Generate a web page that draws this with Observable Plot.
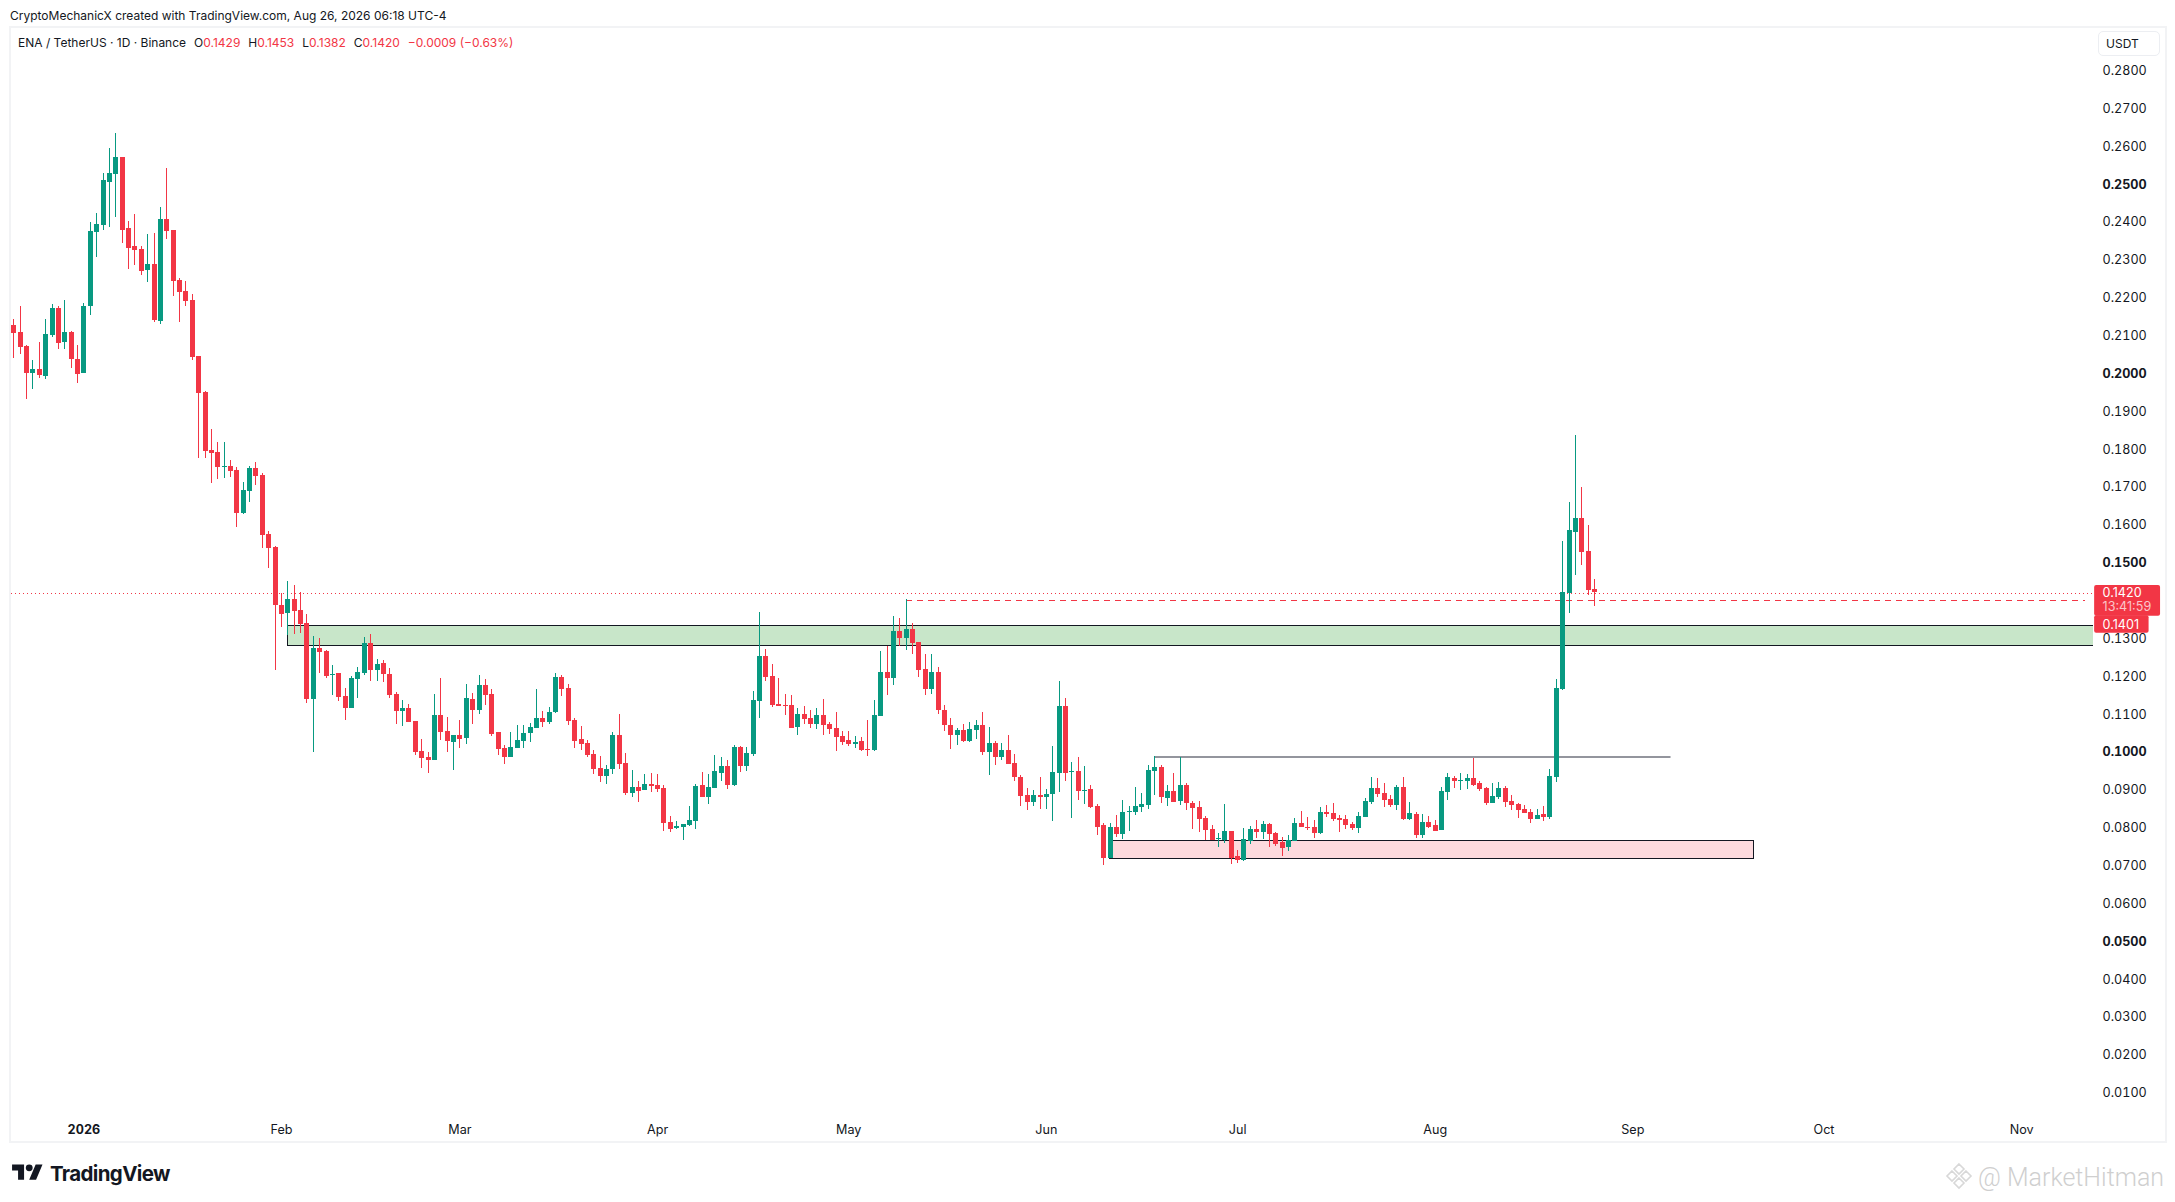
<!DOCTYPE html>
<html><head><meta charset="utf-8">
<script src="https://cdn.jsdelivr.net/npm/d3@7"></script>
<script src="https://cdn.jsdelivr.net/npm/@observablehq/plot@0.6"></script>
<style>
html,body{margin:0;padding:0;background:#fff;width:2175px;height:1202px;overflow:hidden;font-family:Inter,sans-serif;color:#131722}
#page{position:relative;width:2175px;height:1202px;overflow:hidden}
#credit{height:27px;line-height:31px;padding-left:10px;font-size:12px;white-space:pre;box-sizing:border-box}
#frame{position:absolute;left:9px;top:26px;width:2158px;height:1117px;border:2px solid #f2f3f5;box-sizing:border-box;pointer-events:none}
#legend{position:absolute;left:18px;top:34px;font-size:12px;line-height:17px;white-space:pre}
#legend b{font-weight:400;color:#F23645}
#legend i{font-style:normal;margin-left:8px}
#unit{position:absolute;left:2098px;top:31px;width:62px;height:25px;border:1px solid #eceef2;border-radius:5px;box-sizing:border-box;font-size:12px;line-height:23px;padding-left:7px}
#chart svg{display:block}
#logo{position:absolute;left:12px;top:1161px}
#brand{position:absolute;left:50px;top:1158.5px;font-size:20.5px;line-height:30px;font-weight:700;letter-spacing:-.65px;color:#131722}
#mark{position:absolute;left:1945px;top:1162px}
#at{position:absolute;left:1978px;top:1162px;font-family:Roboto,sans-serif;font-size:25px;line-height:32px;font-weight:300;color:#cfcfcf;white-space:pre}
</style></head><body>
<div id="page">
<div id="frame"></div>
<div id="credit">CryptoMechanicX created with TradingView.com, Aug 26, 2026 06:18 UTC-4</div>
<div id="chart"></div>
<div id="legend">ENA / TetherUS · 1D · Binance<i>O</i><b>0.1429</b><i>H</i><b>0.1453</b><i>L</i><b>0.1382</b><i>C</i><b>0.1420</b><i></i><b>−0.0009 (−0.63%)</b></div>
<div id="unit">USDT</div>
<svg id="logo" width="31" height="24" viewBox="0 0 36 28" fill="#131722"><path d="M14 22H7V11H0V4h14v18zM28 22h-8l7.5-18h8L28 22z"/><circle cx="20" cy="8" r="4"/></svg>
<div id="brand">TradingView</div>
<svg id="mark" width="28" height="28" viewBox="0 0 28 28" fill="none" stroke="#d8d8d8" stroke-width="1.6"><path d="M14 2l5 5-5 5-5-5zM7 9l5 5-5 5-5-5zM21 9l5 5-5 5-5-5zM14 16l5 5-5 5-5-5z"/></svg>
<div id="at">@ MarketHitman</div>
</div>
<script>
// Prices in ticks of 0.0001 USDT, one value per daily candle from 21 Dec 2025.
const TICK = 0.0001;
const opens = [
2125,2106,2069,1998,2009,1990,2098,2170,2080,2106,
2035,1998,2175,2371,2389,2503,2524,2569,2381,2334,
2326,2270,2286,2135,2405,2376,2244,2215,2191,2043,
1948,1795,1789,1750,1752,1742,1628,1686,1747,1728,
1573,1538,1386,1364,1401,1372,1338,1137,1272,1264,
1201,1206,1145,1113,1190,1206,1285,1214,1232,1203,
1150,1106,1113,1079,1000,984,976,1095,1053,1024,
1042,1034,1137,1108,1174,1150,1050,1008,984,1008,
1026,1047,1061,1087,1076,1103,1195,1166,1082,1032,
1021,992,955,934,953,1042,968,889,905,897,
913,910,902,813,797,799,805,815,910,879,
902,942,961,910,1011,961,992,1132,1251,1198,
1124,1122,1122,1064,1098,1087,1071,1095,1071,1061,
1040,1029,1018,1026,1005,1003,1092,1209,1193,1317,
1298,1322,1288,1216,1164,1209,1108,1069,1042,1055,
1026,1055,1069,997,1021,984,1003,968,931,884,
865,884,878,886,942,1119,944,947,894,899,
855,804,717,799,781,839,839,852,857,947,
958,876,894,868,910,863,852,823,794,768,
765,789,723,712,762,794,786,807,784,760,
747,762,810,799,799,784,839,836,823,820,
807,797,826,865,902,889,873,857,904,820,
833,778,812,804,791,891,928,920,920,928,
915,902,862,878,902,867,860,846,838,820,
833,825,931,1163,1417,1578,1615,1528,1429];
const highs = [
2141,2175,2072,2032,2080,2141,2180,2175,2191,2109,
2072,2183,2397,2421,2526,2592,2632,2569,2400,2418,
2334,2365,2368,2437,2540,2376,2249,2241,2207,2043,
1950,1850,1816,1816,1768,1750,1710,1752,1763,1734,
1581,1541,1417,1449,1438,1420,1362,1304,1298,1267,
1227,1206,1166,1198,1222,1301,1309,1243,1240,1219,
1156,1135,1124,1079,1032,997,1150,1193,1090,1042,
1082,1177,1153,1201,1190,1164,1050,1016,1050,1069,
1069,1074,1164,1106,1116,1206,1201,1177,1087,1066,
1029,1003,987,963,1050,1098,995,950,921,939,
942,939,910,828,815,807,855,913,945,939,
990,984,976,1016,1013,1011,1159,1367,1270,1230,
1193,1151,1148,1114,1119,1108,1114,1137,1077,1103,
1053,1053,1040,1037,1082,1135,1264,1277,1356,1351,
1401,1338,1288,1256,1256,1222,1122,1087,1061,1071,
1077,1082,1103,1063,1026,1021,1042,992,936,902,
897,931,899,1013,1185,1140,971,984,960,910,
860,810,810,831,871,855,905,889,963,987,
963,910,942,984,916,868,868,828,805,784,
860,789,739,797,802,818,815,810,786,773,
778,823,842,826,818,852,857,863,831,831,
813,839,876,931,929,915,883,910,931,865,
838,833,828,817,904,941,933,941,939,981,
920,904,915,918,907,883,862,857,846,846,
854,952,1190,1554,1657,1834,1697,1597,1453];
const lows = [
2038,2048,1929,1956,1985,1982,2093,2062,2062,2011,
1972,1998,2151,2305,2376,2384,2410,2342,2273,2283,
2257,2238,2133,2128,2352,2202,2133,2175,2032,1774,
1774,1707,1718,1721,1723,1591,1625,1657,1702,1536,
1483,1214,1327,1306,1309,1312,1127,997,1206,1193,
1148,1132,1082,1113,1140,1201,1185,1185,1182,1140,
1071,1066,1076,989,955,942,976,1029,997,950,
1008,1018,1071,1098,1121,1040,989,966,984,1008,
1008,1024,1061,1063,1071,1100,1145,1069,1008,1003,
984,939,918,913,939,953,884,879,865,897,
892,892,789,786,794,765,802,794,879,860,
902,921,899,908,945,947,987,1087,1185,1116,
1119,1095,1061,1042,1071,1061,1058,1042,1045,1000,
1016,1013,1008,1000,987,1000,1092,1148,1174,1277,
1267,1256,1195,1148,1150,1098,1053,1005,1016,1024,
1024,1032,989,936,963,976,966,921,855,844,
855,847,847,815,891,921,823,870,860,849,
778,699,717,773,768,789,831,839,847,884,
863,855,865,857,844,794,786,765,765,747,
757,702,704,710,754,770,768,747,749,723,
736,762,799,791,770,781,826,815,786,794,
791,784,826,860,879,852,852,844,817,817,
770,770,796,788,791,870,902,897,899,907,
894,857,862,873,852,844,823,836,809,820,
815,820,918,1161,1364,1465,1491,1412,1382];
const closes = [
2104,2067,1998,2009,1993,2101,2170,2077,2106,2035,
1995,2175,2373,2392,2508,2526,2569,2376,2328,2323,
2268,2286,2138,2405,2373,2241,2212,2188,2040,1945,
1792,1787,1750,1752,1739,1628,1689,1747,1726,1570,
1536,1386,1362,1401,1370,1335,1137,1272,1261,1198,
1203,1143,1113,1193,1209,1285,1214,1230,1203,1148,
1106,1113,1076,997,981,976,1095,1050,1026,1042,
1032,1140,1108,1174,1148,1045,1005,984,1010,1029,
1047,1063,1087,1076,1103,1195,1164,1079,1027,1019,
990,953,934,953,1042,966,889,905,894,913,
908,900,810,794,802,807,818,908,879,905,
947,961,910,1011,961,995,1135,1251,1196,1122,
1119,1119,1061,1098,1085,1071,1095,1069,1058,1037,
1024,1019,1024,1003,1003,1095,1209,1193,1317,1298,
1322,1285,1214,1164,1209,1108,1069,1042,1055,1026,
1058,1069,997,1021,984,1003,966,931,881,865,
884,878,886,944,1119,942,947,894,897,852,
799,717,799,781,839,842,855,860,950,958,
879,894,865,910,863,850,820,791,765,770,
789,717,712,768,794,786,807,781,754,744,
765,810,799,797,784,839,834,820,818,805,
797,828,868,902,887,870,857,904,820,836,
778,812,799,788,894,931,920,923,928,910,
899,862,881,902,865,857,844,836,820,830,
825,933,1166,1420,1583,1615,1525,1425,1420];

const regularPriceTicks = [0.01,0.02,0.03,0.04,0.06,0.07,0.08,0.09,0.11,0.12,0.13,0.16,0.17,0.18,0.19,0.21,0.22,0.23,0.24,0.26,0.27,0.28];
const boldPriceTicks = [0.05,0.10,0.15,0.20,0.25];
const monthTicks = ["2026-02-01","2026-03-01","2026-04-01","2026-05-01","2026-06-01","2026-07-01","2026-08-01","2026-09-01","2026-10-01","2026-11-01"].map(d=>new Date(d));
const yearTicks = [new Date("2026-01-01")];
const UP = "#089981", DOWN = "#F23645", INK = "#131722";

const lastPrice = 0.1420, levelPrice = 0.1401;
const demandZone = {x1:new Date("2026-02-02"), y1:0.1280, y2:0.1332};
const supplyZone = {x1:new Date("2026-06-11"), x2:new Date("2026-09-20"), y1:0.0717, y2:0.0764};
const rangeTop = {x1:new Date("2026-06-18"), x2:new Date("2026-09-07"), y:0.0985};
const levelLine = {x1:new Date("2026-05-10"), x2:new Date("2026-11-11"), y:levelPrice};

const xDomain = [new Date("2025-12-20T15:24Z"), new Date("2026-11-12T06:43Z")];
const yDomain = [0.00436, 0.29096];

const tagLeft = new Date("2026-11-12T11:00Z"), tagWide = new Date("2026-11-22T19:12Z"), tagNarrow = new Date("2026-11-21T00:00Z"), tagText = new Date("2026-11-13T16:48Z");
const tags = [{x1:tagLeft,x2:tagWide,y1:0.1360,y2:0.1441},{x1:tagLeft,x2:tagNarrow,y1:0.1315,y2:0.1361}];
const tagLabels = [{t:"0.1420",y:0.1420,o:1},{t:"13:41:59",y:0.1383,o:.72},{t:"0.1401",y:0.1338,o:1}];

const candles = opens.map((o,i)=>({
  date:new Date(Date.UTC(2025,11,21+i)),
  open:o*TICK, high:highs[i]*TICK, low:lows[i]*TICK, close:closes[i]*TICK
}));
const rising = candles.filter(d=>d.close>=d.open), falling = candles.filter(d=>d.close<d.open);
const crisp = {shapeRendering:"crispEdges"};
const fmtPrice = d=>d.toFixed(4);

const chart = Plot.plot({
  width:2175, height:1116,
  marginLeft:11, marginRight:82, marginTop:1, marginBottom:30,
  style:{fontFamily:"Inter, sans-serif", background:"transparent", color:INK, overflow:"visible"},
  x:{type:"utc", domain:xDomain},
  y:{type:"linear", domain:yDomain},
  marks:[
    Plot.ruleY([lastPrice],{x1:xDomain[0],x2:xDomain[1],stroke:DOWN,strokeWidth:1,strokeDasharray:"1 3",dy:1,...crisp}),
    Plot.rect([demandZone],{x1:"x1",x2:xDomain[1],y1:"y1",y2:"y2",fill:"#c8e6c9",...crisp}),
    Plot.ruleY([demandZone.y1,demandZone.y2],{x1:demandZone.x1,x2:xDomain[1],stroke:INK,strokeWidth:1,...crisp}),
    Plot.ruleX([demandZone.x1],{y1:demandZone.y1,y2:demandZone.y2,stroke:INK,strokeWidth:1,...crisp}),
    Plot.rect([supplyZone],{x1:"x1",x2:"x2",y1:"y1",y2:"y2",fill:"#fddade",stroke:INK,strokeWidth:1,...crisp}),
    Plot.ruleY([rangeTop.y],{x1:rangeTop.x1,x2:rangeTop.x2,stroke:"#6f727c",strokeWidth:1.5}),
    Plot.ruleY([levelLine.y],{x1:levelLine.x1,x2:levelLine.x2,stroke:DOWN,strokeWidth:1,strokeDasharray:"6 5",dy:1,...crisp}),
    Plot.ruleX(rising,{x:"date",y1:"low",y2:"high",stroke:UP,strokeWidth:1,...crisp}),
    Plot.ruleX(falling,{x:"date",y1:"low",y2:"high",stroke:DOWN,strokeWidth:1,...crisp}),
    Plot.ruleX(rising,{x:"date",y1:"open",y2:"close",stroke:UP,strokeWidth:5,...crisp}),
    Plot.ruleX(falling,{x:"date",y1:"open",y2:"close",stroke:DOWN,strokeWidth:5,...crisp}),
    Plot.axisY({anchor:"right",ticks:regularPriceTicks,tickFormat:fmtPrice,tickSize:0,tickPadding:9,fontSize:12.6,dy:1,label:null}),
    Plot.axisY({anchor:"right",ticks:boldPriceTicks,tickFormat:fmtPrice,tickSize:0,tickPadding:9,fontSize:12.6,fontWeight:700,dy:1,label:null}),
    Plot.rect(tags,{x1:"x1",x2:"x2",y1:"y1",y2:"y2",fill:DOWN,rx:2,dy:1}),
    Plot.text(tagLabels,{x:tagText,y:"y",text:"t",fill:"#fff",fillOpacity:"o",fontSize:12.6,textAnchor:"start",dy:1}),
    Plot.axisX({ticks:monthTicks,tickFormat:d3.utcFormat("%b"),tickSize:0,tickPadding:11.5,fontSize:12.6,label:null}),
    Plot.axisX({ticks:yearTicks,tickFormat:d3.utcFormat("%Y"),tickSize:0,tickPadding:11.5,fontSize:12.6,fontWeight:700,label:null})
  ]
});
document.getElementById("chart").append(chart);
</script>
</body></html>
